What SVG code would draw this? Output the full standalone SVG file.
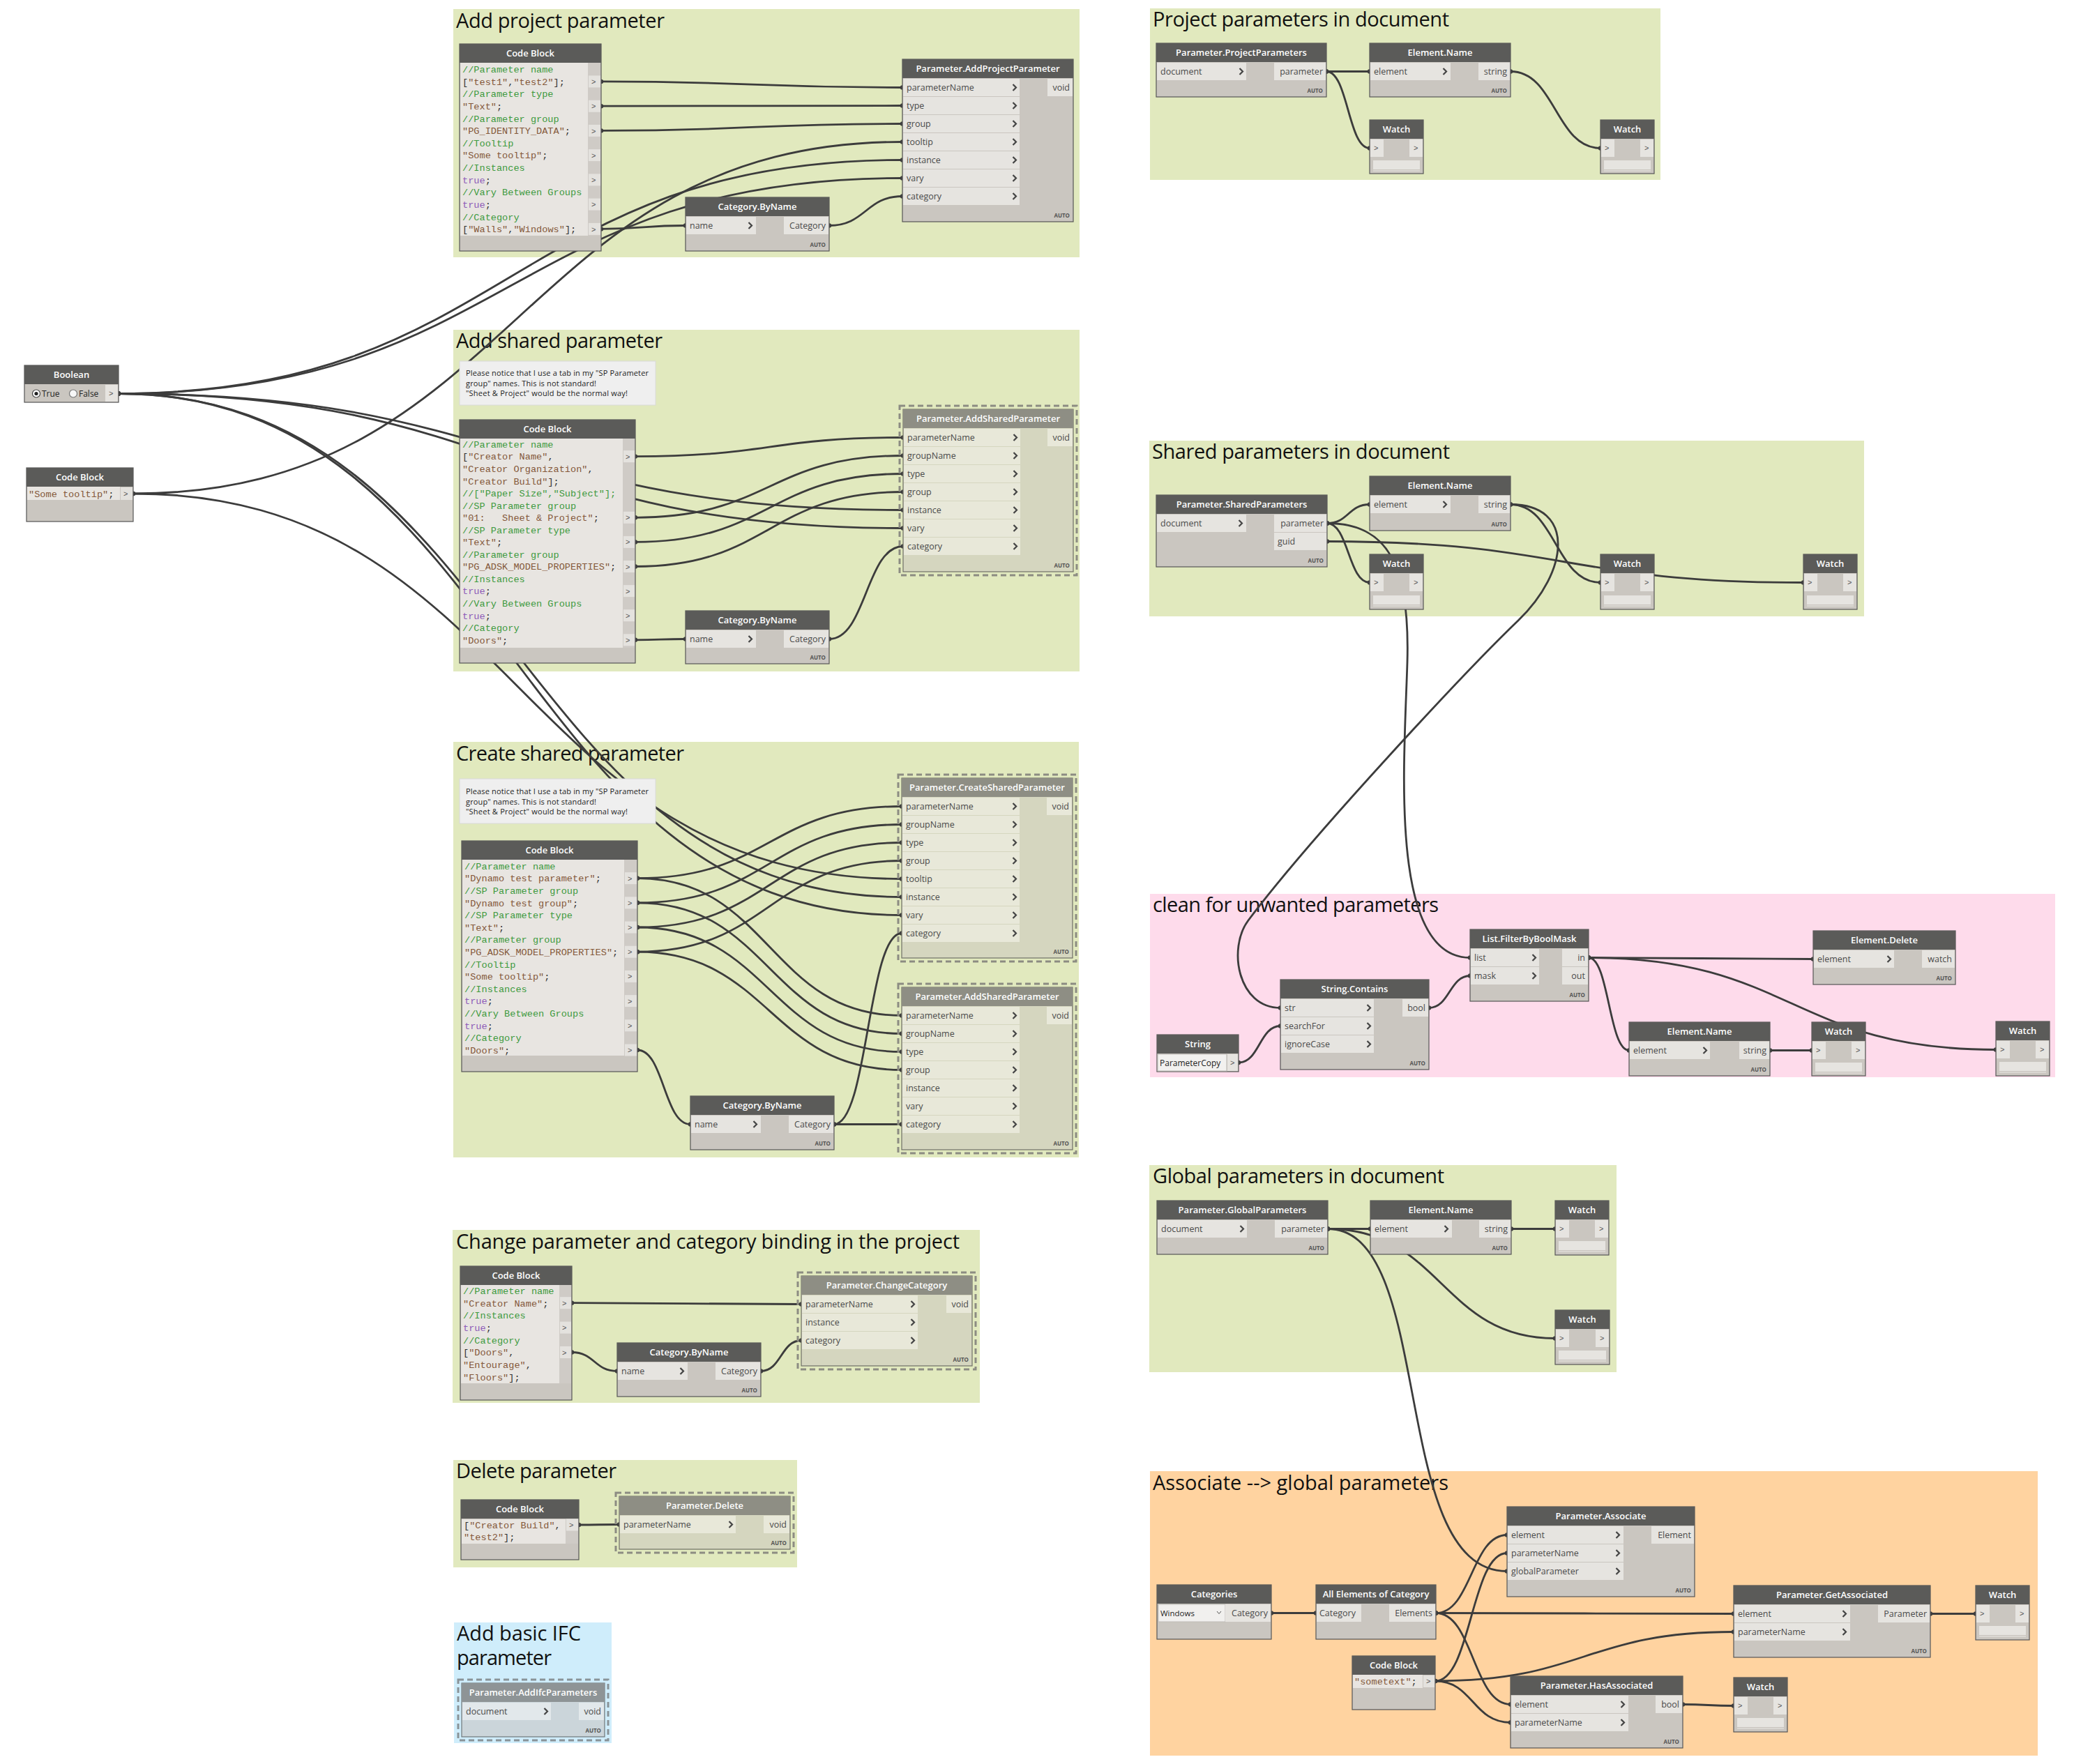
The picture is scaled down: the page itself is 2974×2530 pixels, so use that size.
<svg xmlns="http://www.w3.org/2000/svg" xmlns:xlink="http://www.w3.org/1999/xlink" width="2974" height="2530" viewBox="0 0 2974 2530">
<style>
.gg{fill:#E1E9BE}.gp{fill:#FEDBEB}.go{fill:#FFD3A0}.gb{fill:#CFEDFB}
.gt{font-family:"Open Sans","Liberation Sans",sans-serif;font-size:29px;fill:#111}
.bd{fill:#CAC6C0;stroke:#555;stroke-width:1.2}
.hd{fill:#5B5B59}
.bdf{fill:#D5D6BF;stroke:#6F6F66;stroke-width:1.2}
.hdf{fill:#8E8E84}
.rowf{fill:#E8E8D9}
.bdb{fill:#CBD5DA;stroke:#6F777A;stroke-width:1.2}
.hdb{fill:#8E9496}
.rowb{fill:#E2E8EB}
.row{fill:#E6E4E0}
.dsh{fill:none;stroke:#8C8C82;stroke-width:3;stroke-dasharray:8 5}
.dshb{fill:none;stroke:#8A9398;stroke-width:3;stroke-dasharray:8 5}
.ht{font-family:"Open Sans","Liberation Sans",sans-serif;font-size:13px;font-weight:600;fill:#fff;text-anchor:middle}
.pt{font-family:"Open Sans","Liberation Sans",sans-serif;font-size:12.5px;fill:#4A4A4A}
.pr{text-anchor:end}
.au{font-family:"Open Sans","Liberation Sans",sans-serif;font-size:8px;font-weight:700;fill:#555;text-anchor:end}
.gl{font-family:"Liberation Sans",sans-serif;font-size:11px;fill:#555}
.wire{fill:none;stroke:#3C3C3C;stroke-width:2.8;marker-start:url(#nub);marker-end:url(#nub)}
.code{font-family:"Liberation Mono","DejaVu Sans Mono",monospace;font-size:13.6px;fill:#333;white-space:pre}
.cm{fill:#3E9A3E}.st{fill:#84583A}.kw{fill:#8E5CB8}
.cta{fill:#E8E5E1}.cpc{fill:#CFCBC6}.cpb{fill:#E4E2DE}
.note{fill:#EFEFEF;stroke:#DADADA;stroke-width:1}
.nt{font-family:"Open Sans","Liberation Sans",sans-serif;font-size:11px;fill:#222}
</style>
<defs>
<path id="chev" d="M-2.5,-4.5 L2,0 L-2.5,4.5" fill="none" stroke="#444" stroke-width="2.2"/>
<marker id="nub" viewBox="-5 -5 10 10" markerWidth="8" markerHeight="8" markerUnits="userSpaceOnUse"><circle r="4" fill="#3C3C3C"/></marker>
</defs>

<g id="groups">
<rect class="gg" x="650" y="13" width="898" height="356"/>
<text class="gt" x="654" y="40" textLength="299">Add project parameter</text>
<rect class="gg" x="650" y="473" width="898" height="490"/>
<text class="gt" x="654" y="499" textLength="296">Add shared parameter</text>
<rect class="gg" x="650" y="1064" width="897" height="596"/>
<text class="gt" x="654" y="1091" textLength="327">Create shared parameter</text>
<rect class="gg" x="649" y="1764" width="756" height="248"/>
<text class="gt" x="654" y="1791" textLength="722">Change parameter and category binding in the project</text>
<rect class="gg" x="650" y="2094" width="493" height="154"/>
<text class="gt" x="654" y="2120" textLength="230">Delete parameter</text>
<rect class="gb" x="651" y="2327" width="226" height="173"/>
<text class="gt" x="655" y="2353" textLength="178">Add basic IFC</text>
<text class="gt" x="655" y="2388" textLength="136">parameter</text>
<rect class="gg" x="1649" y="12" width="732" height="246"/>
<text class="gt" x="1653" y="38" textLength="425">Project parameters in document</text>
<rect class="gg" x="1648" y="632" width="1025" height="252"/>
<text class="gt" x="1652" y="658" textLength="427">Shared parameters in document</text>
<rect class="gp" x="1649" y="1282" width="1298" height="263"/>
<text class="gt" x="1653" y="1308" textLength="410">clean for unwanted parameters</text>
<rect class="gg" x="1648" y="1671" width="670" height="297"/>
<text class="gt" x="1653" y="1697" textLength="418">Global parameters in document</text>
<rect class="go" x="1649" y="2110" width="1273" height="408"/>
<text class="gt" x="1653" y="2137" textLength="424">Associate --&gt; global parameters</text>
</g>

<g id="connectors">
<path class="wire" d="M862,116.9 C1078,116.9 1078,125.5 1294,125.5"/>
<path class="wire" d="M862,152.2 C1078,152.2 1078,151.5 1294,151.5"/>
<path class="wire" d="M862,187.4 C1078,187.4 1078,177.5 1294,177.5"/>
<path class="wire" d="M191,708 C742.5,708 742.5,203.5 1294,203.5"/>
<path class="wire" d="M170,564.5 C732,564.5 732,229.5 1294,229.5"/>
<path class="wire" d="M170,564.5 C732,564.5 732,255.5 1294,255.5"/>
<path class="wire" d="M1189,323.5 C1241.5,323.5 1241.5,281.5 1294,281.5"/>
<path class="wire" d="M862,328.4 C922.5,328.4 922.5,323.5 983,323.5"/>
<path class="wire" d="M911,654.6 C1103,654.6 1103,627.5 1295,627.5"/>
<path class="wire" d="M911,742.3 C1103,742.3 1103,653.5 1295,653.5"/>
<path class="wire" d="M911,777.4 C1103,777.4 1103,679.5 1295,679.5"/>
<path class="wire" d="M911,812.5 C1103,812.5 1103,705.5 1295,705.5"/>
<path class="wire" d="M170,564.5 C732.5,564.5 732.5,731.5 1295,731.5"/>
<path class="wire" d="M170,564.5 C732.5,564.5 732.5,757.5 1295,757.5"/>
<path class="wire" d="M1189,916.5 C1242,916.5 1242,783.5 1295,783.5"/>
<path class="wire" d="M911,917.8 C947,917.8 947,916.5 983,916.5"/>
<path class="wire" d="M914,1259.6 C1103.5,1259.6 1103.5,1156.5 1293,1156.5"/>
<path class="wire" d="M914,1294.8 C1103.5,1294.8 1103.5,1182.5 1293,1182.5"/>
<path class="wire" d="M914,1330 C1103.5,1330 1103.5,1208.5 1293,1208.5"/>
<path class="wire" d="M914,1365.2 C1103.5,1365.2 1103.5,1234.5 1293,1234.5"/>
<path class="wire" d="M191,708 C742,708 742,1260.5 1293,1260.5"/>
<path class="wire" d="M170,564.5 C731.5,564.5 731.5,1286.5 1293,1286.5"/>
<path class="wire" d="M170,564.5 C731.5,564.5 731.5,1312.5 1293,1312.5"/>
<path class="wire" d="M1196,1612.5 C1244.5,1612.5 1244.5,1338.5 1293,1338.5"/>
<path class="wire" d="M914,1259.6 C1103.5,1259.6 1103.5,1456.5 1293,1456.5"/>
<path class="wire" d="M914,1294.8 C1103.5,1294.8 1103.5,1482.5 1293,1482.5"/>
<path class="wire" d="M914,1330 C1103.5,1330 1103.5,1508.5 1293,1508.5"/>
<path class="wire" d="M914,1365.2 C1103.5,1365.2 1103.5,1534.5 1293,1534.5"/>
<path class="wire" d="M1196,1612.5 C1244.5,1612.5 1244.5,1612.5 1293,1612.5"/>
<path class="wire" d="M914,1506 C952,1506 952,1612.5 990,1612.5"/>
<path class="wire" d="M820,1868.7 C984.5,1868.7 984.5,1870.5 1149,1870.5"/>
<path class="wire" d="M820,1939.5 C852.5,1939.5 852.5,1966.5 885,1966.5"/>
<path class="wire" d="M1091,1966.5 C1120,1966.5 1120,1922.5 1149,1922.5"/>
<path class="wire" d="M830,2187 C859,2187 859,2186.5 888,2186.5"/>
<path class="wire" d="M1902,102.5 C1933,102.5 1933,102.5 1964,102.5"/>
<path class="wire" d="M1902,102.5 C1933,102.5 1933,212.5 1964,212.5"/>
<path class="wire" d="M2166,102.5 C2230.5,102.5 2230.5,212.5 2295,212.5"/>
<path class="wire" d="M1903,750.5 C1933.5,750.5 1933.5,723.5 1964,723.5"/>
<path class="wire" d="M1903,750.5 C1933.5,750.5 1933.5,835.5 1964,835.5"/>
<path class="wire" d="M1903,776.5 C2244.5,776.5 2244.5,835.5 2586,835.5"/>
<path class="wire" d="M2166,723.5 C2230.5,723.5 2230.5,835.5 2295,835.5"/>
<path class="wire" d="M1903,750.5 C1990,750.5 2022,810 2018,950 S1990,1373.5 2108,1373.5"/>
<path class="wire" d="M2166,723.5 C2260,723.5 2250,820 2177,890 S1880,1200 1790,1320 C1760,1360 1775,1445.5 1836,1445.5"/>
<path class="wire" d="M1776,1524 C1806,1524 1806,1471.5 1836,1471.5"/>
<path class="wire" d="M2049,1445.5 C2078.5,1445.5 2078.5,1399.5 2108,1399.5"/>
<path class="wire" d="M2278,1373.5 C2439,1373.5 2439,1375.5 2600,1375.5"/>
<path class="wire" d="M2278,1373.5 C2307,1373.5 2307,1506.5 2336,1506.5"/>
<path class="wire" d="M2278,1373.5 C2570,1373.5 2570,1505.5 2862,1505.5"/>
<path class="wire" d="M2538,1506.5 C2568,1506.5 2568,1506.5 2598,1506.5"/>
<path class="wire" d="M1904,1762.5 C1934.5,1762.5 1934.5,1762.5 1965,1762.5"/>
<path class="wire" d="M1904,1762.5 C2067,1762.5 2067,1919.5 2230,1919.5"/>
<path class="wire" d="M1904,1762.5 C2060,1762.5 1990,2253.5 2161,2253.5"/>
<path class="wire" d="M2167,1762.5 C2198.5,1762.5 2198.5,1762.5 2230,1762.5"/>
<path class="wire" d="M1823,2313.5 C1855,2313.5 1855,2313.5 1887,2313.5"/>
<path class="wire" d="M2059,2313.5 C2110,2313.5 2110,2201.5 2161,2201.5"/>
<path class="wire" d="M2059,2313.5 C2272.5,2313.5 2272.5,2314.5 2486,2314.5"/>
<path class="wire" d="M2059,2313.5 C2112.5,2313.5 2112.5,2444.5 2166,2444.5"/>
<path class="wire" d="M2058,2411 C2109.5,2411 2109.5,2227.5 2161,2227.5"/>
<path class="wire" d="M2058,2411 C2272,2411 2272,2340.5 2486,2340.5"/>
<path class="wire" d="M2058,2411 C2112,2411 2112,2470.5 2166,2470.5"/>
<path class="wire" d="M2768,2314.5 C2800.5,2314.5 2800.5,2314.5 2833,2314.5"/>
<path class="wire" d="M2413,2444.5 C2449.5,2444.5 2449.5,2446.5 2486,2446.5"/>
</g>

<!-- Left nodes -->
<g id="boolean">
<rect class="bd" x="35" y="524" width="135" height="53"/>
<rect class="hd" x="35" y="524" width="135" height="27"/>
<text class="ht" x="102.5" y="542">Boolean</text>
<circle cx="52" cy="564.5" r="5.5" fill="#fff" stroke="#444" stroke-width="1.2"/>
<circle cx="52" cy="564.5" r="2.6" fill="#222"/>
<text class="pt" x="60" y="569" fill="#222" style="fill:#222;font-size:12px">True</text>
<circle cx="105" cy="564.5" r="5.5" fill="#F7F7F7" stroke="#777" stroke-width="1.2"/>
<text class="pt" x="113" y="569" style="fill:#222;font-size:12px">False</text>
<rect class="row" x="151" y="552" width="18" height="24"/>
<text class="gl" x="156" y="568">&gt;</text>
</g>
<g id="codeblock-tooltip">
<rect class="bd" x="38" y="671" width="153" height="77"/>
<rect class="hd" x="38" y="671" width="153" height="27"/>
<text class="ht" x="114.5" y="689">Code Block</text>
<rect class="cta" x="39" y="698" width="133" height="19"/>
<rect class="cpb" x="173" y="699" width="17" height="18"/>
<text class="gl" x="177" y="712">&gt;</text>
<text class="code" x="41" y="712.5"><tspan class="st">"Some tooltip"</tspan>;</text>
</g>

<!-- Add project parameter -->
<g id="cb-project">
<rect class="bd" x="659" y="63" width="203" height="297"/>
<rect class="hd" x="659" y="63" width="203" height="27"/>
<text class="ht" x="760.5" y="81">Code Block</text>
<rect class="cta" x="660" y="90" width="183" height="248"/>
<rect class="cpc" x="843" y="90" width="18" height="248"/>
<rect class="cpb" x="844" y="108.4" width="17" height="17"/><text class="gl" x="848" y="121">&gt;</text>
<rect class="cpb" x="844" y="143.7" width="17" height="17"/><text class="gl" x="848" y="156">&gt;</text>
<rect class="cpb" x="844" y="178.9" width="17" height="17"/><text class="gl" x="848" y="191.5">&gt;</text>
<rect class="cpb" x="844" y="214.1" width="17" height="17"/><text class="gl" x="848" y="226.5">&gt;</text>
<rect class="cpb" x="844" y="249.4" width="17" height="17"/><text class="gl" x="848" y="262">&gt;</text>
<rect class="cpb" x="844" y="284.6" width="17" height="17"/><text class="gl" x="848" y="297">&gt;</text>
<rect class="cpb" x="844" y="319.9" width="17" height="17"/><text class="gl" x="848" y="332.5">&gt;</text>
<text class="code cm" x="663" y="104.1">//Parameter name</text>
<text class="code" x="663" y="121.7">[<tspan class="st">"test1"</tspan>,<tspan class="st">"test2"</tspan>];</text>
<text class="code cm" x="663" y="139.3">//Parameter type</text>
<text class="code" x="663" y="157"><tspan class="st">"Text"</tspan>;</text>
<text class="code cm" x="663" y="174.6">//Parameter group</text>
<text class="code" x="663" y="192.2"><tspan class="st">"PG_IDENTITY_DATA"</tspan>;</text>
<text class="code cm" x="663" y="209.8">//Tooltip</text>
<text class="code" x="663" y="227.4"><tspan class="st">"Some tooltip"</tspan>;</text>
<text class="code cm" x="663" y="245.1">//Instances</text>
<text class="code" x="663" y="262.7"><tspan class="kw">true</tspan>;</text>
<text class="code cm" x="663" y="280.3">//Vary Between Groups</text>
<text class="code" x="663" y="297.9"><tspan class="kw">true</tspan>;</text>
<text class="code cm" x="663" y="315.5">//Category</text>
<text class="code" x="663" y="333.2">[<tspan class="st">"Walls"</tspan>,<tspan class="st">"Windows"</tspan>];</text>
</g>
<g id="add-project-parameter">
<rect class="bd" x="1294" y="85" width="245" height="233"/>
<rect class="hd" x="1294" y="85" width="245" height="27"/>
<text class="ht" x="1416.5" y="103">Parameter.AddProjectParameter</text>
<rect class="row" x="1295" y="113" width="167" height="25"/><text class="pt" x="1300" y="130">parameterName</text><use href="#chev" x="1455" y="125.5"/>
<rect class="row" x="1295" y="139" width="167" height="25"/><text class="pt" x="1300" y="156">type</text><use href="#chev" x="1455" y="151.5"/>
<rect class="row" x="1295" y="165" width="167" height="25"/><text class="pt" x="1300" y="182">group</text><use href="#chev" x="1455" y="177.5"/>
<rect class="row" x="1295" y="191" width="167" height="25"/><text class="pt" x="1300" y="208">tooltip</text><use href="#chev" x="1455" y="203.5"/>
<rect class="row" x="1295" y="217" width="167" height="25"/><text class="pt" x="1300" y="234">instance</text><use href="#chev" x="1455" y="229.5"/>
<rect class="row" x="1295" y="243" width="167" height="25"/><text class="pt" x="1300" y="260">vary</text><use href="#chev" x="1455" y="255.5"/>
<rect class="row" x="1295" y="269" width="167" height="25"/><text class="pt" x="1300" y="286">category</text><use href="#chev" x="1455" y="281.5"/>
<rect class="row" x="1502" y="113" width="36" height="25"/><text class="pt pr" x="1534" y="130">void</text>
<text class="au" x="1534" y="312">AUTO</text>
</g>
<g id="category-byname-1">
<rect class="bd" x="983" y="283" width="206" height="77"/>
<rect class="hd" x="983" y="283" width="206" height="27"/>
<text class="ht" x="1086" y="301">Category.ByName</text>
<rect class="row" x="984" y="311" width="100" height="25"/><text class="pt" x="989" y="328">name</text><use href="#chev" x="1076" y="323.5"/>
<rect class="row" x="1124" y="311" width="64" height="25"/><text class="pt pr" x="1184" y="328">Category</text>
<text class="au" x="1184" y="354">AUTO</text>
</g>

<!-- Add shared parameter -->
<g id="note-1">
<rect class="note" x="659" y="518" width="281" height="63"/>
<text class="nt" x="668" y="539" textLength="262">Please notice that I use a tab in my "SP Parameter</text>
<text class="nt" x="668" y="553.5" textLength="187">group" names. This is not standard!</text>
<text class="nt" x="668" y="568" textLength="232">"Sheet &amp; Project" would be the normal way!</text>
</g>
<g id="cb-shared">
<rect class="bd" x="659" y="602" width="252" height="349"/>
<rect class="hd" x="659" y="602" width="252" height="27"/>
<text class="ht" x="785" y="620">Code Block</text>
<rect class="cta" x="660" y="629" width="233" height="300"/>
<rect class="cpc" x="893" y="629" width="17" height="300"/>
<rect class="cpb" x="894" y="646.1" width="16" height="17"/><text class="gl" x="897" y="658.6">&gt;</text>
<rect class="cpb" x="894" y="733.8" width="16" height="17"/><text class="gl" x="897" y="746.3">&gt;</text>
<rect class="cpb" x="894" y="768.9" width="16" height="17"/><text class="gl" x="897" y="781.4">&gt;</text>
<rect class="cpb" x="894" y="804" width="16" height="17"/><text class="gl" x="897" y="816.5">&gt;</text>
<rect class="cpb" x="894" y="839.1" width="16" height="17"/><text class="gl" x="897" y="851.6">&gt;</text>
<rect class="cpb" x="894" y="874.2" width="16" height="17"/><text class="gl" x="897" y="886.7">&gt;</text>
<rect class="cpb" x="894" y="909.3" width="16" height="17"/><text class="gl" x="897" y="921.8">&gt;</text>
<text class="code cm" x="663" y="641.8">//Parameter name</text>
<text class="code" x="663" y="659.4">[<tspan class="st">"Creator Name"</tspan>,</text>
<text class="code st" x="663" y="676.9">"Creator Organization"<tspan style="fill:#333">,</tspan></text>
<text class="code" x="663" y="694.5"><tspan class="st">"Creator Build"</tspan>];</text>
<text class="code cm" x="663" y="712">//["Paper Size","Subject"];</text>
<text class="code cm" x="663" y="729.6">//SP Parameter group</text>
<text class="code" x="663" y="747.1"><tspan class="st">"01:&#160;&#160;&#160;Sheet &amp; Project"</tspan>;</text>
<text class="code cm" x="663" y="764.7">//SP Parameter type</text>
<text class="code" x="663" y="782.2"><tspan class="st">"Text"</tspan>;</text>
<text class="code cm" x="663" y="799.8">//Parameter group</text>
<text class="code" x="663" y="817.3"><tspan class="st">"PG_ADSK_MODEL_PROPERTIES"</tspan>;</text>
<text class="code cm" x="663" y="834.9">//Instances</text>
<text class="code" x="663" y="852.4"><tspan class="kw">true</tspan>;</text>
<text class="code cm" x="663" y="870">//Vary Between Groups</text>
<text class="code" x="663" y="887.5"><tspan class="kw">true</tspan>;</text>
<text class="code cm" x="663" y="905.1">//Category</text>
<text class="code" x="663" y="922.6"><tspan class="st">"Doors"</tspan>;</text>
</g>
<g id="add-shared-parameter-1">
<rect class="dsh" x="1290" y="582" width="254" height="243"/>
<rect class="bdf" x="1295" y="587" width="244" height="233"/>
<rect class="hdf" x="1295" y="587" width="244" height="27"/>
<text class="ht" x="1417" y="605">Parameter.AddSharedParameter</text>
<rect class="rowf" x="1296" y="615" width="167" height="25"/><text class="pt" x="1301" y="632">parameterName</text><use href="#chev" x="1456" y="627.5"/>
<rect class="rowf" x="1296" y="641" width="167" height="25"/><text class="pt" x="1301" y="658">groupName</text><use href="#chev" x="1456" y="653.5"/>
<rect class="rowf" x="1296" y="667" width="167" height="25"/><text class="pt" x="1301" y="684">type</text><use href="#chev" x="1456" y="679.5"/>
<rect class="rowf" x="1296" y="693" width="167" height="25"/><text class="pt" x="1301" y="710">group</text><use href="#chev" x="1456" y="705.5"/>
<rect class="rowf" x="1296" y="719" width="167" height="25"/><text class="pt" x="1301" y="736">instance</text><use href="#chev" x="1456" y="731.5"/>
<rect class="rowf" x="1296" y="745" width="167" height="25"/><text class="pt" x="1301" y="762">vary</text><use href="#chev" x="1456" y="757.5"/>
<rect class="rowf" x="1296" y="771" width="167" height="25"/><text class="pt" x="1301" y="788">category</text><use href="#chev" x="1456" y="783.5"/>
<rect class="rowf" x="1502" y="615" width="36" height="25"/><text class="pt pr" x="1534" y="632">void</text>
<text class="au" x="1534" y="814">AUTO</text>
</g>
<g id="category-byname-2">
<rect class="bd" x="983" y="876" width="206" height="76"/>
<rect class="hd" x="983" y="876" width="206" height="27"/>
<text class="ht" x="1086" y="894">Category.ByName</text>
<rect class="row" x="984" y="904" width="100" height="25"/><text class="pt" x="989" y="921">name</text><use href="#chev" x="1076" y="916.5"/>
<rect class="row" x="1124" y="904" width="64" height="25"/><text class="pt pr" x="1184" y="921">Category</text>
<text class="au" x="1184" y="946">AUTO</text>
</g>

<!-- Create shared parameter -->
<g id="note-2">
<rect class="note" x="659" y="1117" width="281" height="64"/>
<text class="nt" x="668" y="1139" textLength="262">Please notice that I use a tab in my "SP Parameter</text>
<text class="nt" x="668" y="1153.5" textLength="187">group" names. This is not standard!</text>
<text class="nt" x="668" y="1168" textLength="232">"Sheet &amp; Project" would be the normal way!</text>
</g>
<g id="cb-create">
<rect class="bd" x="662" y="1206" width="252" height="331"/>
<rect class="hd" x="662" y="1206" width="252" height="27"/>
<text class="ht" x="788" y="1224">Code Block</text>
<rect class="cta" x="663" y="1233" width="232" height="281"/>
<rect class="cpc" x="895" y="1233" width="18" height="281"/>
<rect class="cpb" x="896" y="1251.1" width="17" height="17"/><text class="gl" x="900" y="1263.6">&gt;</text>
<rect class="cpb" x="896" y="1286.3" width="17" height="17"/><text class="gl" x="900" y="1298.8">&gt;</text>
<rect class="cpb" x="896" y="1321.5" width="17" height="17"/><text class="gl" x="900" y="1334">&gt;</text>
<rect class="cpb" x="896" y="1356.7" width="17" height="17"/><text class="gl" x="900" y="1369.2">&gt;</text>
<rect class="cpb" x="896" y="1391.9" width="17" height="17"/><text class="gl" x="900" y="1404.4">&gt;</text>
<rect class="cpb" x="896" y="1427.1" width="17" height="17"/><text class="gl" x="900" y="1439.6">&gt;</text>
<rect class="cpb" x="896" y="1462.3" width="17" height="17"/><text class="gl" x="900" y="1474.8">&gt;</text>
<rect class="cpb" x="896" y="1497.5" width="17" height="17"/><text class="gl" x="900" y="1510">&gt;</text>
<text class="code cm" x="666" y="1246.8">//Parameter name</text>
<text class="code" x="666" y="1264.4"><tspan class="st">"Dynamo test parameter"</tspan>;</text>
<text class="code cm" x="666" y="1282">//SP Parameter group</text>
<text class="code" x="666" y="1299.6"><tspan class="st">"Dynamo test group"</tspan>;</text>
<text class="code cm" x="666" y="1317.2">//SP Parameter type</text>
<text class="code" x="666" y="1334.8"><tspan class="st">"Text"</tspan>;</text>
<text class="code cm" x="666" y="1352.4">//Parameter group</text>
<text class="code" x="666" y="1370"><tspan class="st">"PG_ADSK_MODEL_PROPERTIES"</tspan>;</text>
<text class="code cm" x="666" y="1387.6">//Tooltip</text>
<text class="code" x="666" y="1405.2"><tspan class="st">"Some tooltip"</tspan>;</text>
<text class="code cm" x="666" y="1422.8">//Instances</text>
<text class="code" x="666" y="1440.4"><tspan class="kw">true</tspan>;</text>
<text class="code cm" x="666" y="1458">//Vary Between Groups</text>
<text class="code" x="666" y="1475.6"><tspan class="kw">true</tspan>;</text>
<text class="code cm" x="666" y="1493.2">//Category</text>
<text class="code" x="666" y="1510.8"><tspan class="st">"Doors"</tspan>;</text>
</g>
<g id="create-shared-parameter">
<rect class="dsh" x="1288" y="1111" width="255" height="268"/>
<rect class="bdf" x="1293" y="1116" width="245" height="258"/>
<rect class="hdf" x="1293" y="1116" width="245" height="27"/>
<text class="ht" x="1415.5" y="1134">Parameter.CreateSharedParameter</text>
<rect class="rowf" x="1294" y="1144" width="168" height="25"/><text class="pt" x="1299" y="1161">parameterName</text><use href="#chev" x="1455" y="1156.5"/>
<rect class="rowf" x="1294" y="1170" width="168" height="25"/><text class="pt" x="1299" y="1187">groupName</text><use href="#chev" x="1455" y="1182.5"/>
<rect class="rowf" x="1294" y="1196" width="168" height="25"/><text class="pt" x="1299" y="1213">type</text><use href="#chev" x="1455" y="1208.5"/>
<rect class="rowf" x="1294" y="1222" width="168" height="25"/><text class="pt" x="1299" y="1239">group</text><use href="#chev" x="1455" y="1234.5"/>
<rect class="rowf" x="1294" y="1248" width="168" height="25"/><text class="pt" x="1299" y="1265">tooltip</text><use href="#chev" x="1455" y="1260.5"/>
<rect class="rowf" x="1294" y="1274" width="168" height="25"/><text class="pt" x="1299" y="1291">instance</text><use href="#chev" x="1455" y="1286.5"/>
<rect class="rowf" x="1294" y="1300" width="168" height="25"/><text class="pt" x="1299" y="1317">vary</text><use href="#chev" x="1455" y="1312.5"/>
<rect class="rowf" x="1294" y="1326" width="168" height="25"/><text class="pt" x="1299" y="1343">category</text><use href="#chev" x="1455" y="1338.5"/>
<rect class="rowf" x="1501" y="1144" width="36" height="25"/><text class="pt pr" x="1533" y="1161">void</text>
<text class="au" x="1533" y="1368">AUTO</text>
</g>
<g id="add-shared-parameter-2">
<rect class="dsh" x="1288" y="1411" width="255" height="243"/>
<rect class="bdf" x="1293" y="1416" width="245" height="233"/>
<rect class="hdf" x="1293" y="1416" width="245" height="27"/>
<text class="ht" x="1415.5" y="1434">Parameter.AddSharedParameter</text>
<rect class="rowf" x="1294" y="1444" width="168" height="25"/><text class="pt" x="1299" y="1461">parameterName</text><use href="#chev" x="1455" y="1456.5"/>
<rect class="rowf" x="1294" y="1470" width="168" height="25"/><text class="pt" x="1299" y="1487">groupName</text><use href="#chev" x="1455" y="1482.5"/>
<rect class="rowf" x="1294" y="1496" width="168" height="25"/><text class="pt" x="1299" y="1513">type</text><use href="#chev" x="1455" y="1508.5"/>
<rect class="rowf" x="1294" y="1522" width="168" height="25"/><text class="pt" x="1299" y="1539">group</text><use href="#chev" x="1455" y="1534.5"/>
<rect class="rowf" x="1294" y="1548" width="168" height="25"/><text class="pt" x="1299" y="1565">instance</text><use href="#chev" x="1455" y="1560.5"/>
<rect class="rowf" x="1294" y="1574" width="168" height="25"/><text class="pt" x="1299" y="1591">vary</text><use href="#chev" x="1455" y="1586.5"/>
<rect class="rowf" x="1294" y="1600" width="168" height="25"/><text class="pt" x="1299" y="1617">category</text><use href="#chev" x="1455" y="1612.5"/>
<rect class="rowf" x="1501" y="1444" width="36" height="25"/><text class="pt pr" x="1533" y="1461">void</text>
<text class="au" x="1533" y="1643">AUTO</text>
</g>
<g id="category-byname-3">
<rect class="bd" x="990" y="1572" width="206" height="77"/>
<rect class="hd" x="990" y="1572" width="206" height="27"/>
<text class="ht" x="1093" y="1590">Category.ByName</text>
<rect class="row" x="991" y="1600" width="100" height="25"/><text class="pt" x="996" y="1617">name</text><use href="#chev" x="1083" y="1612.5"/>
<rect class="row" x="1131" y="1600" width="64" height="25"/><text class="pt pr" x="1191" y="1617">Category</text>
<text class="au" x="1191" y="1643">AUTO</text>
</g>

<!-- Change parameter -->
<g id="cb-change">
<rect class="bd" x="660" y="1816" width="160" height="192"/>
<rect class="hd" x="660" y="1816" width="160" height="27"/>
<text class="ht" x="740" y="1834">Code Block</text>
<rect class="cta" x="661" y="1843" width="141" height="141"/>
<rect class="cpc" x="802" y="1843" width="17" height="141"/>
<rect class="cpb" x="803" y="1860.2" width="16" height="17"/><text class="gl" x="806" y="1872.7">&gt;</text>
<rect class="cpb" x="803" y="1895.6" width="16" height="17"/><text class="gl" x="806" y="1908.1">&gt;</text>
<rect class="cpb" x="803" y="1931" width="16" height="17"/><text class="gl" x="806" y="1943.5">&gt;</text>
<text class="code cm" x="664" y="1855.8">//Parameter name</text>
<text class="code" x="664" y="1873.5"><tspan class="st">"Creator Name"</tspan>;</text>
<text class="code cm" x="664" y="1891.2">//Instances</text>
<text class="code" x="664" y="1908.9"><tspan class="kw">true</tspan>;</text>
<text class="code cm" x="664" y="1926.6">//Category</text>
<text class="code" x="664" y="1944.3">[<tspan class="st">"Doors"</tspan>,</text>
<text class="code" x="664" y="1962"><tspan class="st">"Entourage"</tspan>,</text>
<text class="code" x="664" y="1979.7"><tspan class="st">"Floors"</tspan>];</text>
</g>
<g id="category-byname-4">
<rect class="bd" x="885" y="1926" width="206" height="77"/>
<rect class="hd" x="885" y="1926" width="206" height="27"/>
<text class="ht" x="988" y="1944">Category.ByName</text>
<rect class="row" x="886" y="1954" width="100" height="25"/><text class="pt" x="891" y="1971">name</text><use href="#chev" x="978" y="1966.5"/>
<rect class="row" x="1026" y="1954" width="64" height="25"/><text class="pt pr" x="1086" y="1971">Category</text>
<text class="au" x="1086" y="1997">AUTO</text>
</g>
<g id="change-category">
<rect class="dsh" x="1144" y="1825" width="255" height="139"/>
<rect class="bdf" x="1149" y="1830" width="245" height="129"/>
<rect class="hdf" x="1149" y="1830" width="245" height="27"/>
<text class="ht" x="1271.5" y="1848">Parameter.ChangeCategory</text>
<rect class="rowf" x="1150" y="1858" width="166" height="25"/><text class="pt" x="1155" y="1875">parameterName</text><use href="#chev" x="1309" y="1870.5"/>
<rect class="rowf" x="1150" y="1884" width="166" height="25"/><text class="pt" x="1155" y="1901">instance</text><use href="#chev" x="1309" y="1896.5"/>
<rect class="rowf" x="1150" y="1910" width="166" height="25"/><text class="pt" x="1155" y="1927">category</text><use href="#chev" x="1309" y="1922.5"/>
<rect class="rowf" x="1357" y="1858" width="36" height="25"/><text class="pt pr" x="1389" y="1875">void</text>
<text class="au" x="1389" y="1953">AUTO</text>
</g>

<!-- Delete parameter -->
<g id="cb-delete">
<rect class="bd" x="661" y="2151" width="169" height="86"/>
<rect class="hd" x="661" y="2151" width="169" height="27"/>
<text class="ht" x="745.5" y="2169">Code Block</text>
<rect class="cta" x="662" y="2179" width="149" height="35"/>
<rect class="cpc" x="811" y="2179" width="18" height="35"/>
<rect class="cpb" x="812" y="2178.5" width="17" height="17"/><text class="gl" x="816" y="2191">&gt;</text>
<text class="code" x="665" y="2191.8">[<tspan class="st">"Creator Build"</tspan>,</text>
<text class="code" x="665" y="2209.4"><tspan class="st">"test2"</tspan>];</text>
</g>
<g id="parameter-delete">
<rect class="dsh" x="883" y="2141" width="255" height="86"/>
<rect class="bdf" x="888" y="2146" width="245" height="76"/>
<rect class="hdf" x="888" y="2146" width="245" height="27"/>
<text class="ht" x="1010.5" y="2164">Parameter.Delete</text>
<rect class="rowf" x="889" y="2174" width="166" height="25"/><text class="pt" x="894" y="2191">parameterName</text><use href="#chev" x="1048" y="2186.5"/>
<rect class="rowf" x="1095" y="2174" width="37" height="25"/><text class="pt pr" x="1128" y="2191">void</text>
<text class="au" x="1128" y="2216">AUTO</text>
</g>

<!-- IFC -->
<g id="add-ifc-parameters">
<rect class="dshb" x="657" y="2409" width="215" height="87"/>
<rect class="bdb" x="662" y="2414" width="205" height="77"/>
<rect class="hdb" x="662" y="2414" width="205" height="27"/>
<text class="ht" x="764.5" y="2432">Parameter.AddIfcParameters</text>
<rect class="rowb" x="663" y="2442" width="127" height="25"/><text class="pt" x="668" y="2459">document</text><use href="#chev" x="783" y="2454.5"/>
<rect class="rowb" x="830" y="2442" width="36" height="25"/><text class="pt pr" x="862" y="2459">void</text>
<text class="au" x="862" y="2485">AUTO</text>
</g>

<!-- Project parameters in document -->
<g id="project-parameters">
<rect class="bd" x="1658" y="62" width="244" height="77"/>
<rect class="hd" x="1658" y="62" width="244" height="27"/>
<text class="ht" x="1780" y="80">Parameter.ProjectParameters</text>
<rect class="row" x="1659" y="90" width="128" height="25"/><text class="pt" x="1664" y="107">document</text><use href="#chev" x="1780" y="102.5"/>
<rect class="row" x="1827" y="90" width="74" height="25"/><text class="pt pr" x="1897" y="107">parameter</text>
<text class="au" x="1897" y="133">AUTO</text>
</g>
<g id="element-name-1">
<rect class="bd" x="1964" y="62" width="202" height="77"/>
<rect class="hd" x="1964" y="62" width="202" height="27"/>
<text class="ht" x="2065" y="80">Element.Name</text>
<rect class="row" x="1965" y="90" width="115" height="25"/><text class="pt" x="1970" y="107">element</text><use href="#chev" x="2072" y="102.5"/>
<rect class="row" x="2120" y="90" width="45" height="25"/><text class="pt pr" x="2161" y="107">string</text>
<text class="au" x="2161" y="133">AUTO</text>
</g>
<g id="watch-1">
<rect class="bd" x="1964" y="172" width="77" height="77"/>
<rect class="hd" x="1964" y="172" width="77" height="27"/>
<text class="ht" x="2002.5" y="190">Watch</text>
<rect class="row" x="1965" y="200" width="19" height="25"/><text class="gl" x="1970" y="216">&gt;</text>
<rect class="row" x="2021" y="200" width="19" height="25"/><text class="gl" x="2027" y="216">&gt;</text>
<rect class="row" x="1969" y="230" width="67" height="13"/><rect x="1969" y="244" width="67" height="2" fill="#DAD7D2"/>
</g>
<g id="watch-2">
<rect class="bd" x="2295" y="172" width="77" height="77"/>
<rect class="hd" x="2295" y="172" width="77" height="27"/>
<text class="ht" x="2333.5" y="190">Watch</text>
<rect class="row" x="2296" y="200" width="19" height="25"/><text class="gl" x="2301" y="216">&gt;</text>
<rect class="row" x="2352" y="200" width="19" height="25"/><text class="gl" x="2358" y="216">&gt;</text>
<rect class="row" x="2300" y="230" width="67" height="13"/><rect x="2300" y="244" width="67" height="2" fill="#DAD7D2"/>
</g>

<!-- Shared parameters in document -->
<g id="shared-parameters">
<rect class="bd" x="1658" y="710" width="245" height="103"/>
<rect class="hd" x="1658" y="710" width="245" height="27"/>
<text class="ht" x="1780.5" y="728">Parameter.SharedParameters</text>
<rect class="row" x="1659" y="738" width="128" height="25"/><text class="pt" x="1664" y="755">document</text><use href="#chev" x="1779" y="750.5"/>
<rect class="row" x="1827" y="738" width="75" height="25"/><text class="pt pr" x="1898" y="755">parameter</text>
<rect class="row" x="1827" y="764" width="75" height="25"/><text class="pt" x="1832" y="781">guid</text>
<text class="au" x="1898" y="807">AUTO</text>
</g>
<g id="element-name-2">
<rect class="bd" x="1964" y="683" width="202" height="78"/>
<rect class="hd" x="1964" y="683" width="202" height="27"/>
<text class="ht" x="2065" y="701">Element.Name</text>
<rect class="row" x="1965" y="711" width="115" height="25"/><text class="pt" x="1970" y="728">element</text><use href="#chev" x="2072" y="723.5"/>
<rect class="row" x="2120" y="711" width="45" height="25"/><text class="pt pr" x="2161" y="728">string</text>
<text class="au" x="2161" y="755">AUTO</text>
</g>
<g id="watch-3">
<rect class="bd" x="1964" y="795" width="77" height="79"/>
<rect class="hd" x="1964" y="795" width="77" height="27"/>
<text class="ht" x="2002.5" y="813">Watch</text>
<rect class="row" x="1965" y="823" width="19" height="25"/><text class="gl" x="1970" y="839">&gt;</text>
<rect class="row" x="2021" y="823" width="19" height="25"/><text class="gl" x="2027" y="839">&gt;</text>
<rect class="row" x="1969" y="854" width="67" height="13"/><rect x="1969" y="868" width="67" height="2" fill="#DAD7D2"/>
</g>
<g id="watch-4">
<rect class="bd" x="2295" y="795" width="77" height="79"/>
<rect class="hd" x="2295" y="795" width="77" height="27"/>
<text class="ht" x="2333.5" y="813">Watch</text>
<rect class="row" x="2296" y="823" width="19" height="25"/><text class="gl" x="2301" y="839">&gt;</text>
<rect class="row" x="2352" y="823" width="19" height="25"/><text class="gl" x="2358" y="839">&gt;</text>
<rect class="row" x="2300" y="854" width="67" height="13"/><rect x="2300" y="868" width="67" height="2" fill="#DAD7D2"/>
</g>
<g id="watch-5">
<rect class="bd" x="2586" y="795" width="77" height="79"/>
<rect class="hd" x="2586" y="795" width="77" height="27"/>
<text class="ht" x="2624.5" y="813">Watch</text>
<rect class="row" x="2587" y="823" width="19" height="25"/><text class="gl" x="2592" y="839">&gt;</text>
<rect class="row" x="2643" y="823" width="19" height="25"/><text class="gl" x="2649" y="839">&gt;</text>
<rect class="row" x="2591" y="854" width="67" height="13"/><rect x="2591" y="868" width="67" height="2" fill="#DAD7D2"/>
</g>

<!-- clean for unwanted parameters -->
<g id="string-node">
<rect class="bd" x="1659" y="1484" width="117" height="53"/>
<rect class="hd" x="1659" y="1484" width="117" height="27"/>
<text class="ht" x="1717.5" y="1502">String</text>
<rect x="1660" y="1512" width="99" height="24" fill="#F2F1EF" stroke="#BDBAB5" stroke-width="1"/>
<text class="pt" x="1663" y="1529" style="font-size:12px;fill:#222">ParameterCopy</text>
<rect class="row" x="1760" y="1512" width="15" height="24"/><text class="gl" x="1764" y="1528">&gt;</text>
</g>
<g id="string-contains">
<rect class="bd" x="1836" y="1405" width="213" height="129"/>
<rect class="hd" x="1836" y="1405" width="213" height="27"/>
<text class="ht" x="1942.5" y="1423">String.Contains</text>
<rect class="row" x="1837" y="1433" width="133" height="25"/><text class="pt" x="1842" y="1450">str</text><use href="#chev" x="1963" y="1445.5"/>
<rect class="row" x="1837" y="1459" width="133" height="25"/><text class="pt" x="1842" y="1476">searchFor</text><use href="#chev" x="1963" y="1471.5"/>
<rect class="row" x="1837" y="1485" width="133" height="25"/><text class="pt" x="1842" y="1502">ignoreCase</text><use href="#chev" x="1963" y="1497.5"/>
<rect class="row" x="2011" y="1433" width="37" height="25"/><text class="pt pr" x="2044" y="1450">bool</text>
<text class="au" x="2044" y="1528">AUTO</text>
</g>
<g id="filter-by-bool-mask">
<rect class="bd" x="2108" y="1333" width="170" height="103"/>
<rect class="hd" x="2108" y="1333" width="170" height="27"/>
<text class="ht" x="2193" y="1351">List.FilterByBoolMask</text>
<rect class="row" x="2109" y="1361" width="98" height="25"/><text class="pt" x="2114" y="1378">list</text><use href="#chev" x="2200" y="1373.5"/>
<rect class="row" x="2109" y="1387" width="98" height="25"/><text class="pt" x="2114" y="1404">mask</text><use href="#chev" x="2200" y="1399.5"/>
<rect class="row" x="2240" y="1361" width="37" height="25"/><text class="pt pr" x="2273" y="1378">in</text>
<rect class="row" x="2240" y="1387" width="37" height="25"/><text class="pt pr" x="2273" y="1404">out</text>
<text class="au" x="2273" y="1430">AUTO</text>
</g>
<g id="element-delete">
<rect class="bd" x="2600" y="1335" width="204" height="77"/>
<rect class="hd" x="2600" y="1335" width="204" height="27"/>
<text class="ht" x="2702" y="1353">Element.Delete</text>
<rect class="row" x="2601" y="1363" width="115" height="25"/><text class="pt" x="2606" y="1380">element</text><use href="#chev" x="2709" y="1375.5"/>
<rect class="row" x="2756" y="1363" width="47" height="25"/><text class="pt pr" x="2799" y="1380">watch</text>
<text class="au" x="2799" y="1406">AUTO</text>
</g>
<g id="element-name-3">
<rect class="bd" x="2336" y="1466" width="202" height="77"/>
<rect class="hd" x="2336" y="1466" width="202" height="27"/>
<text class="ht" x="2437" y="1484">Element.Name</text>
<rect class="row" x="2337" y="1494" width="115" height="25"/><text class="pt" x="2342" y="1511">element</text><use href="#chev" x="2445" y="1506.5"/>
<rect class="row" x="2494" y="1494" width="43" height="25"/><text class="pt pr" x="2533" y="1511">string</text>
<text class="au" x="2533" y="1537">AUTO</text>
</g>
<g id="watch-6">
<rect class="bd" x="2598" y="1466" width="77" height="77"/>
<rect class="hd" x="2598" y="1466" width="77" height="27"/>
<text class="ht" x="2636.5" y="1484">Watch</text>
<rect class="row" x="2599" y="1494" width="19" height="25"/><text class="gl" x="2604" y="1510">&gt;</text>
<rect class="row" x="2655" y="1494" width="19" height="25"/><text class="gl" x="2661" y="1510">&gt;</text>
<rect class="row" x="2603" y="1524" width="67" height="13"/><rect x="2603" y="1538" width="67" height="2" fill="#DAD7D2"/>
</g>
<g id="watch-7">
<rect class="bd" x="2862" y="1465" width="77" height="78"/>
<rect class="hd" x="2862" y="1465" width="77" height="27"/>
<text class="ht" x="2900.5" y="1483">Watch</text>
<rect class="row" x="2863" y="1493" width="19" height="25"/><text class="gl" x="2868" y="1509">&gt;</text>
<rect class="row" x="2919" y="1493" width="19" height="25"/><text class="gl" x="2925" y="1509">&gt;</text>
<rect class="row" x="2867" y="1523" width="67" height="13"/><rect x="2867" y="1537" width="67" height="2" fill="#DAD7D2"/>
</g>

<!-- Global parameters in document -->
<g id="global-parameters">
<rect class="bd" x="1659" y="1722" width="245" height="77"/>
<rect class="hd" x="1659" y="1722" width="245" height="27"/>
<text class="ht" x="1781.5" y="1740">Parameter.GlobalParameters</text>
<rect class="row" x="1660" y="1750" width="128" height="25"/><text class="pt" x="1665" y="1767">document</text><use href="#chev" x="1781" y="1762.5"/>
<rect class="row" x="1828" y="1750" width="75" height="25"/><text class="pt pr" x="1899" y="1767">parameter</text>
<text class="au" x="1899" y="1793">AUTO</text>
</g>
<g id="element-name-4">
<rect class="bd" x="1965" y="1722" width="202" height="77"/>
<rect class="hd" x="1965" y="1722" width="202" height="27"/>
<text class="ht" x="2066" y="1740">Element.Name</text>
<rect class="row" x="1966" y="1750" width="116" height="25"/><text class="pt" x="1971" y="1767">element</text><use href="#chev" x="2074" y="1762.5"/>
<rect class="row" x="2121" y="1750" width="45" height="25"/><text class="pt pr" x="2162" y="1767">string</text>
<text class="au" x="2162" y="1793">AUTO</text>
</g>
<g id="watch-8">
<rect class="bd" x="2230" y="1722" width="77" height="78"/>
<rect class="hd" x="2230" y="1722" width="77" height="27"/>
<text class="ht" x="2268.5" y="1740">Watch</text>
<rect class="row" x="2231" y="1750" width="19" height="25"/><text class="gl" x="2236" y="1766">&gt;</text>
<rect class="row" x="2287" y="1750" width="19" height="25"/><text class="gl" x="2293" y="1766">&gt;</text>
<rect class="row" x="2235" y="1780" width="67" height="13"/><rect x="2235" y="1794" width="67" height="2" fill="#DAD7D2"/>
</g>
<g id="watch-9">
<rect class="bd" x="2230" y="1879" width="78" height="78"/>
<rect class="hd" x="2230" y="1879" width="78" height="27"/>
<text class="ht" x="2269" y="1897">Watch</text>
<rect class="row" x="2231" y="1907" width="19" height="25"/><text class="gl" x="2236" y="1923">&gt;</text>
<rect class="row" x="2288" y="1907" width="19" height="25"/><text class="gl" x="2294" y="1923">&gt;</text>
<rect class="row" x="2235" y="1937" width="68" height="13"/><rect x="2235" y="1951" width="68" height="2" fill="#DAD7D2"/>
</g>

<!-- Associate -> global parameters -->
<g id="categories">
<rect class="bd" x="1659" y="2273" width="164" height="78"/>
<rect class="hd" x="1659" y="2273" width="164" height="27"/>
<text class="ht" x="1741" y="2291">Categories</text>
<rect x="1661" y="2301" width="96" height="25" fill="#F1F0EE" stroke="#BEBBB6" stroke-width="1"/>
<text class="pt" x="1664" y="2318" style="font-size:11.5px;fill:#222">Windows</text>
<path d="M1745,2311 L1748,2314.5 L1751,2311" fill="none" stroke="#555" stroke-width="1"/>
<rect class="row" x="1757" y="2301" width="65" height="25"/><text class="pt pr" x="1818" y="2318">Category</text>
</g>
<g id="all-elements-of-category">
<rect class="bd" x="1887" y="2273" width="172" height="78"/>
<rect class="hd" x="1887" y="2273" width="172" height="27"/>
<text class="ht" x="1973" y="2291">All Elements of Category</text>
<rect class="row" x="1888" y="2301" width="64" height="25"/><text class="pt" x="1892" y="2318">Category</text>
<rect class="row" x="1992" y="2301" width="66" height="25"/><text class="pt pr" x="2054" y="2318">Elements</text>
</g>
<g id="cb-sometext">
<rect class="bd" x="1939" y="2375" width="119" height="77"/>
<rect class="hd" x="1939" y="2375" width="119" height="27"/>
<text class="ht" x="1998.5" y="2393">Code Block</text>
<rect class="cta" x="1940" y="2402" width="100" height="19"/>
<rect class="cpb" x="2041" y="2403" width="16" height="17"/><text class="gl" x="2045" y="2415">&gt;</text>
<text class="code" x="1942" y="2415.5"><tspan class="st">"sometext"</tspan>;</text>
</g>
<g id="parameter-associate">
<rect class="bd" x="2161" y="2161" width="269" height="129"/>
<rect class="hd" x="2161" y="2161" width="269" height="27"/>
<text class="ht" x="2295.5" y="2179">Parameter.Associate</text>
<rect class="row" x="2162" y="2189" width="166" height="25"/><text class="pt" x="2167" y="2206">element</text><use href="#chev" x="2320" y="2201.5"/>
<rect class="row" x="2162" y="2215" width="166" height="25"/><text class="pt" x="2167" y="2232">parameterName</text><use href="#chev" x="2320" y="2227.5"/>
<rect class="row" x="2162" y="2241" width="166" height="25"/><text class="pt" x="2167" y="2258">globalParameter</text><use href="#chev" x="2320" y="2253.5"/>
<rect class="row" x="2368" y="2189" width="61" height="25"/><text class="pt pr" x="2425" y="2206">Element</text>
<text class="au" x="2425" y="2284">AUTO</text>
</g>
<g id="parameter-getassociated">
<rect class="bd" x="2486" y="2274" width="282" height="103"/>
<rect class="hd" x="2486" y="2274" width="282" height="27"/>
<text class="ht" x="2627" y="2292">Parameter.GetAssociated</text>
<rect class="row" x="2487" y="2302" width="166" height="25"/><text class="pt" x="2492" y="2319">element</text><use href="#chev" x="2645" y="2314.5"/>
<rect class="row" x="2487" y="2328" width="166" height="25"/><text class="pt" x="2492" y="2345">parameterName</text><use href="#chev" x="2645" y="2340.5"/>
<rect class="row" x="2693" y="2302" width="74" height="25"/><text class="pt pr" x="2763" y="2319">Parameter</text>
<text class="au" x="2763" y="2371">AUTO</text>
</g>
<g id="watch-10">
<rect class="bd" x="2833" y="2274" width="77" height="78"/>
<rect class="hd" x="2833" y="2274" width="77" height="27"/>
<text class="ht" x="2871.5" y="2292">Watch</text>
<rect class="row" x="2834" y="2302" width="19" height="25"/><text class="gl" x="2839" y="2318">&gt;</text>
<rect class="row" x="2890" y="2302" width="19" height="25"/><text class="gl" x="2896" y="2318">&gt;</text>
<rect class="row" x="2838" y="2332" width="67" height="13"/><rect x="2838" y="2346" width="67" height="2" fill="#DAD7D2"/>
</g>
<g id="parameter-hasassociated">
<rect class="bd" x="2166" y="2404" width="247" height="103"/>
<rect class="hd" x="2166" y="2404" width="247" height="27"/>
<text class="ht" x="2289.5" y="2422">Parameter.HasAssociated</text>
<rect class="row" x="2167" y="2432" width="168" height="25"/><text class="pt" x="2172" y="2449">element</text><use href="#chev" x="2327" y="2444.5"/>
<rect class="row" x="2167" y="2458" width="168" height="25"/><text class="pt" x="2172" y="2475">parameterName</text><use href="#chev" x="2327" y="2470.5"/>
<rect class="row" x="2374" y="2432" width="38" height="25"/><text class="pt pr" x="2408" y="2449">bool</text>
<text class="au" x="2408" y="2501">AUTO</text>
</g>
<g id="watch-11">
<rect class="bd" x="2486" y="2406" width="77" height="78"/>
<rect class="hd" x="2486" y="2406" width="77" height="27"/>
<text class="ht" x="2524.5" y="2424">Watch</text>
<rect class="row" x="2487" y="2434" width="19" height="25"/><text class="gl" x="2492" y="2450">&gt;</text>
<rect class="row" x="2543" y="2434" width="19" height="25"/><text class="gl" x="2549" y="2450">&gt;</text>
<rect class="row" x="2491" y="2464" width="67" height="13"/><rect x="2491" y="2478" width="67" height="2" fill="#DAD7D2"/>
</g>
</svg>
